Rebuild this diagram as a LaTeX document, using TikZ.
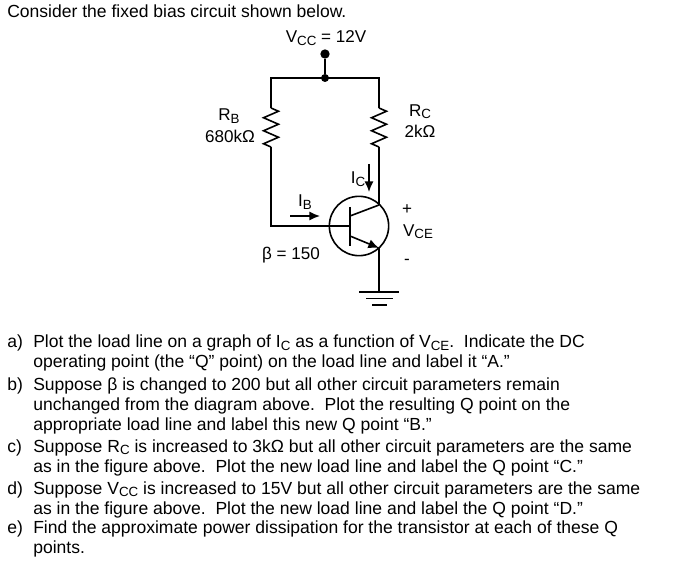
\documentclass[tikz,border=0pt]{standalone}
\usepackage{fontspec}
\usetikzlibrary{decorations.pathmorphing,arrows.meta}
\setmainfont{Liberation Sans}
\newcommand{\lowtxt}[1]{\raisebox{-0.12em}{\fontsize{10}{11}\selectfont #1}}
\tikzset{
  txt/.style={anchor=base west,inner sep=0pt,font=\fontsize{13.15}{15}\selectfont},
  lbl/.style={anchor=base,inner sep=0pt,font=\fontsize{12.8}{15}\selectfont},
  wire/.style={line width=1.2pt},
  res/.style={line width=1.2pt,decorate,decoration={zigzag,segment length=9.75pt,amplitude=5.6pt}},
  dot/.style={circle,fill=black,inner sep=0pt,minimum size=#1}
}
\begin{document}
\begin{tikzpicture}[x=0.75pt,y=-0.75pt]
\useasboundingbox (0,0) rectangle (679,563);
% circuit
\node[dot=7pt] (supply) at (325,54) {};
\node[dot=6pt] (top) at (325,78) {};
\coordinate (leftTop) at (271,78);
\coordinate (rightTop) at (379,78);
\coordinate (rbTop) at (271,108);
\coordinate (rbBot) at (271,147);
\coordinate (rcTop) at (379,108);
\coordinate (rcBot) at (379,147);
\coordinate (baseCorner) at (271,226);
\coordinate (base) at (350,226);
\coordinate (coll) at (379,205);
\coordinate (emit) at (379,248);
\coordinate (collIn) at (350,216);
\coordinate (emitIn) at (350,236);
\coordinate (gnd) at (379,292);
\draw[wire] (supply) -- (top);
\draw[wire] (rbTop) -- (leftTop) -- (rightTop) -- (rcTop);
\draw[res] (rbTop) -- (rbBot);
\draw[res] (rcTop) -- (rcBot);
\draw[wire] (rbBot) -- (baseCorner) -- (base);
\draw[wire] (rcBot) -- (coll);
\draw[wire] (emit) -- (gnd);
% transistor
\node[circle,draw,line width=1.2pt,inner sep=0pt,minimum size=44.5pt] (bjt) at (359,226) {};
\draw[line width=1.3pt] (350,207) -- (350,246);
\draw[wire] (collIn) -- (coll);
\draw[wire,-{Latex[length=8pt,width=7pt]}] (emitIn) -- (emit);
% ground
\draw[wire] (359,292) -- (399,292);
\draw[wire] (366,298.5) -- (393,298.5);
\draw[wire] (372,305) -- (387,305);
% current arrows
\coordinate (ibFrom) at (290,216);
\coordinate (ibTo) at (320,216);
\coordinate (icFrom) at (369,164);
\coordinate (icTo) at (369,192);
\draw[wire,-{Latex[length=8pt,width=7pt]}] (ibFrom) -- (ibTo);
\draw[wire,-{Latex[length=8pt,width=7pt]}] (icFrom) -- (icTo);
% circuit labels
\node[lbl] (vcc) at (326,43) {V\lowtxt{CC} = 12V};
\node[lbl] (rbName) at (229,121) {R\lowtxt{B}};
\node[lbl] (rbVal) at (230,143) {680kΩ};
\node[lbl] (rcName) at (420,116.5) {R\lowtxt{C}};
\node[lbl] (rcVal) at (420,138) {2kΩ};
\node[lbl] (ibName) at (305,207) {I\lowtxt{B}};
\node[lbl] (icName) at (358,184) {I\lowtxt{C}};
\node[lbl] (plus) at (407,214.5) {+};
\node[lbl] (vce) at (418,236.5) {V\lowtxt{CE}};
\node[lbl] (minus) at (407,265) {-};
\node[lbl] (beta) at (291,259.5) {β = 150};
% question text
\node[txt] (intro) at (7,18) {Consider the fixed bias circuit shown below.};
\node[txt] (aTag) at (7,348) {a)};
\node[txt] (a1) at (33,348) {Plot the load line on a graph of I\lowtxt{C} as a function of V\lowtxt{CE}.\ \ Indicate the DC};
\node[txt] (a2) at (33,368) {operating point (the “Q” point) on the load line and label it “A.”};
\node[txt] (bTag) at (7,390) {b)};
\node[txt] (b1) at (33,390) {Suppose β is changed to 200 but all other circuit parameters remain};
\node[txt] (b2) at (33,410) {unchanged from the diagram above.\ \ Plot the resulting Q point on the};
\node[txt] (b3) at (33,430) {appropriate load line and label this new Q point “B.”};
\node[txt] (cTag) at (7,452) {c)};
\node[txt] (c1) at (33,452) {Suppose R\lowtxt{C} is increased to 3kΩ but all other circuit parameters are the same};
\node[txt] (c2) at (33,472) {as in the figure above.\ \ Plot the new load line and label the Q point “C.”};
\node[txt] (dTag) at (7,494) {d)};
\node[txt] (d1) at (33,494) {Suppose V\lowtxt{CC} is increased to 15V but all other circuit parameters are the same};
\node[txt] (d2) at (33,514) {as in the figure above.\ \ Plot the new load line and label the Q point “D.”};
\node[txt] (eTag) at (7,533) {e)};
\node[txt] (e1) at (33,533) {Find the approximate power dissipation for the transistor at each of these Q};
\node[txt] (e2) at (33,553) {points.};
\end{tikzpicture}
\end{document}
